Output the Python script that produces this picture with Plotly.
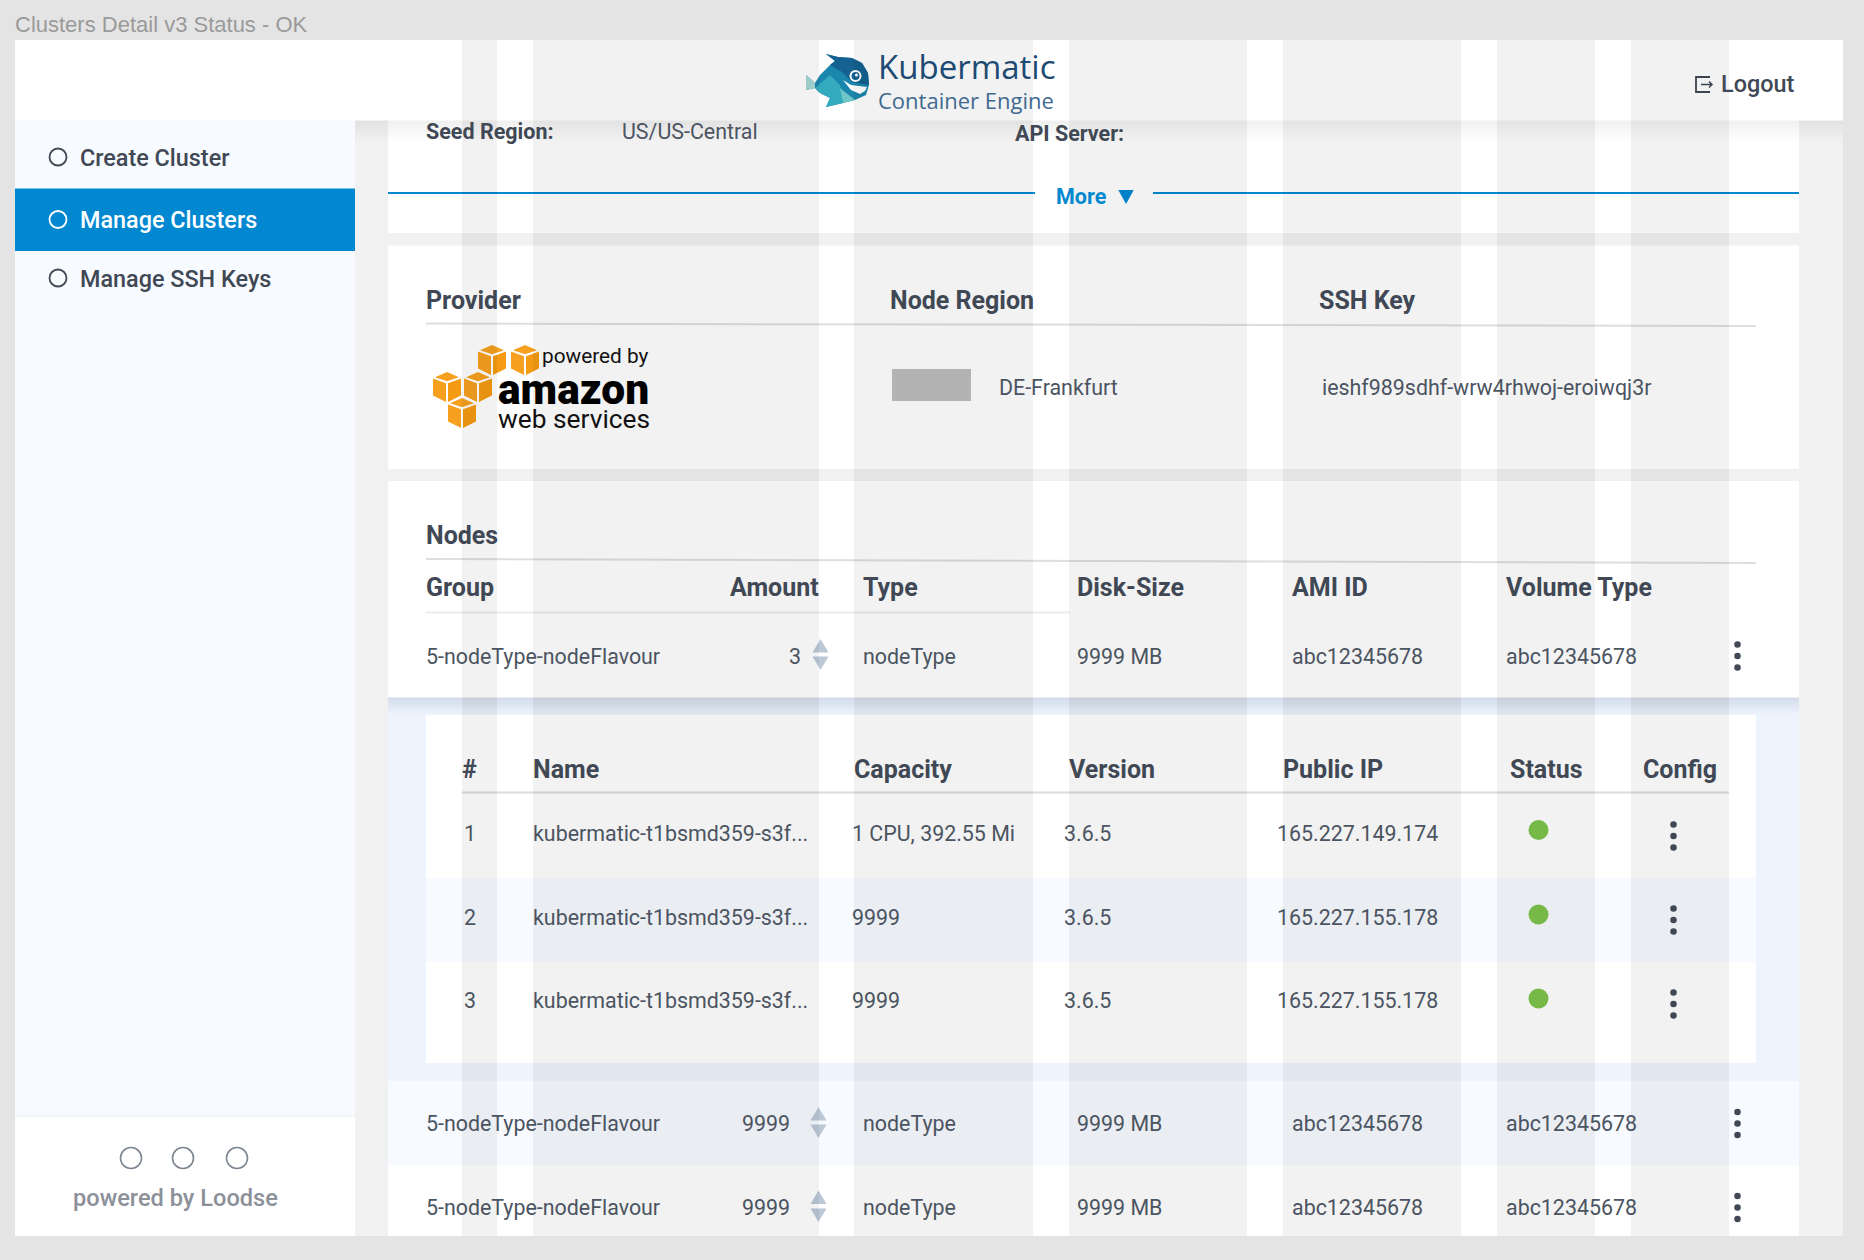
import plotly.graph_objects as go

page_title = 'Clusters Detail v3 Status - OK'
menu_items = ['Create Cluster', 'Manage Clusters', 'Manage SSH Keys']
provider_heads = ['Provider', 'Node Region', 'SSH Key']
node_region = 'DE-Frankfurt'
ssh_key = 'ieshf989sdhf-wrw4rhwoj-eroiwqj3r'

node_heads = ['Group', 'Amount', 'Type', 'Disk-Size', 'AMI ID', 'Volume Type']
group_names = ['5-nodeType-nodeFlavour', '5-nodeType-nodeFlavour', '5-nodeType-nodeFlavour']
group_amounts = ['3', '9999', '9999']
group_types = ['nodeType', 'nodeType', 'nodeType']
group_disks = ['9999 MB', '9999 MB', '9999 MB']
group_amis = ['abc12345678', 'abc12345678', 'abc12345678']
group_volumes = ['abc12345678', 'abc12345678', 'abc12345678']

detail_heads = ['#', 'Name', 'Capacity', 'Version', 'Public IP', 'Status', 'Config']
detail_ids = ['1', '2', '3']
detail_names = ['kubermatic-t1bsmd359-s3f...', 'kubermatic-t1bsmd359-s3f...', 'kubermatic-t1bsmd359-s3f...']
detail_capacity = ['1 CPU, 392.55 Mi', '9999', '9999']
detail_versions = ['3.6.5', '3.6.5', '3.6.5']
detail_ips = ['165.227.149.174', '165.227.155.178', '165.227.155.178']

# Column and row positions in screen pixels
group_row_y = [656, 1123.5, 1207.5]
detail_row_y = [833, 917, 1000.5]
node_head_x = [425.5, 729.5, 863, 1077, 1291.5, 1505.5]
detail_head_x = [462, 532.5, 853.5, 1068.5, 1282.5, 1510, 1643]
stripes = [(462, 497), (533, 819), (854, 1033), (1069, 1247), (1283, 1461), (1497, 1595), (1631, 1729)]

BLUE = '#0288d1'
DARK = '#3f4854'
TEXT = '#4b5461'

fig = go.Figure()
shapes = []
notes = []


def rect(x0, y0, x1, y1, color):
    shapes.append(dict(type='rect', x0=x0, y0=y0, x1=x1, y1=y1, fillcolor=color,
                       line_width=0, layer='below'))


def line(x0, y0, x1, y1, color, width=2):
    shapes.append(dict(type='line', x0=x0, y0=y0, x1=x1, y1=y1,
                       line=dict(color=color, width=width), layer='below'))


def poly(points, color):
    path = 'M' + ' L'.join(f'{x},{y}' for x, y in points) + ' Z'
    shapes.append(dict(type='path', path=path, fillcolor=color, line_width=0, layer='below'))


def disc(cx, cy, r, color):
    shapes.append(dict(type='circle', x0=cx - r, y0=cy - r, x1=cx + r, y1=cy + r,
                       fillcolor=color, line_width=0, layer='below'))


def label(x, y, text, size=21.4, color=TEXT, weight=400, family='Roboto', anchor='left'):
    notes.append(dict(x=x, y=y, text=text, showarrow=False, xanchor=anchor, yanchor='middle',
                      xref='x', yref='y', borderpad=0, borderwidth=0,
                      font=dict(size=size, color=color, weight=weight, family=family)))


def cube(cx, cy, w=28, h=30):
    # one orange box of the AWS mark
    t = h * 0.22
    poly([(cx - w/2, cy - h/2 + t), (cx - 1, cy - h/2 + t*1.7), (cx - 1, cy + h/2), (cx - w/2, cy + h/2 - t)], '#f7a01f')
    poly([(cx + w/2, cy - h/2 + t), (cx + 1, cy - h/2 + t*1.7), (cx + 1, cy + h/2), (cx + w/2, cy + h/2 - t)], '#f59a13')
    poly([(cx - w/2 + 2, cy - h/2 + t*0.8), (cx, cy - h/2), (cx + w/2 - 2, cy - h/2 + t*0.8), (cx, cy - h/2 + t*1.4)], '#f7a01f')


def arrow(cx, y0, y1, w, color):
    # small triangle, tip at y1
    poly([(cx - w/2, y0), (cx + w/2, y0), (cx, y1)], color)


# Page frame
rect(15, 40, 1843, 1236, '#f1f1f1')
rect(15, 120, 355, 1116, '#f7faff')
rect(15, 188.5, 355, 251, BLUE)
rect(15, 1116, 355, 1236, '#ffffff')
line(15, 1116, 355, 1116, '#f2f4f6', 2)

# Cards
rect(388, 120, 1799, 233, '#ffffff')
rect(388, 245.5, 1799, 469, '#ffffff')
rect(388, 481, 1799, 1236, '#ffffff')

# Expanded node panel
rect(388, 697.5, 1799, 1081, '#eef4fd')
rect(426, 715, 1756, 1063, '#ffffff')
rect(426, 878, 1756, 962, '#f7faff')
rect(388, 1081, 1799, 1165, '#f7faff')
for i in range(8):
    rect(388, 697.5 + i * 2, 1799, 699.5 + i * 2, f'rgba(60,90,130,{0.15 * (1 - i / 8):.3f})')

# Rules and separators
line(388, 193, 1035, 193, BLUE)
line(1153, 193, 1799, 193, BLUE)
line(426, 323.5, 1756, 326, '#dedede')
line(426, 559, 1756, 563, '#dedede')
line(426, 612.5, 1070, 612.5, '#ececec')
line(462, 792.5, 1729, 792.5, '#dcdcdc')

# Region flag placeholder
rect(892, 369, 971, 401, '#bdbdbd')

# AWS mark
cube(492, 360)
cube(525, 360)
cube(447, 387)
cube(478, 387)
cube(462, 413)

# Amount spinners and the More arrow
spinner_x = [820.5, 818.5, 818.5]
spinner_top = [639, 1107, 1190.5]
spinner_bottom = [670, 1138, 1222]
for sx, top, bottom in zip(spinner_x, spinner_top, spinner_bottom):
    arrow(sx, top + 13.5, top, 16, '#bcc8d6')
    arrow(sx, bottom - 13.5, bottom, 16, '#bcc8d6')
arrow(1126, 190, 204, 15.5, BLUE)

# Header bar
rect(15, 40, 1843, 120.5, '#ffffff')
for i in range(10):
    rect(355, 120.5 + i * 2, 1843, 122.5 + i * 2, f'rgba(0,0,0,{0.06 * (1 - i / 10):.3f})')

# Shark logo
poly([(826, 54), (838, 57), (852, 58), (862, 63), (868, 73), (869, 85), (866, 95), (855, 100),
      (843, 103), (826, 107), (830, 98), (820, 93), (815, 88), (806, 90), (806, 75), (815, 83),
      (820, 75), (830, 65), (835, 61)], '#1b86ad')
poly([(826, 54), (838, 57), (852, 58), (862, 63), (868, 73), (869, 85), (852, 82), (842, 72), (830, 65), (835, 61)], '#15618f')
poly([(815, 88), (830, 75), (840, 85), (843, 103), (826, 107), (830, 98), (820, 93)], '#34aabf')
poly([(843, 103), (855, 100), (840, 88)], '#6cc6c6')
poly([(806, 90), (806, 75), (815, 83), (815, 88)], '#a5d8d6')
poly([(843, 80), (851, 85), (867, 87), (865, 91), (860, 94), (851, 90)], '#ffffff')
disc(855.5, 76, 6, '#ffffff')
disc(855.5, 76, 4, '#15618f')
disc(856.5, 75, 1.6, '#ffffff')

# Logout icon
shapes.append(dict(type='path', path='M1710,77 L1696,77 L1696,92 L1710,92', line=dict(color=DARK, width=1.8), layer='below'))
shapes.append(dict(type='path', path='M1701,84.5 L1712,84.5 M1709,81.5 L1712,84.5 L1709,87.5', line=dict(color=DARK, width=1.5), layer='below'))

# Grid overlay over everything from the header down
for x0, x1 in stripes:
    rect(x0, 40, x1, 1236, 'rgba(0,0,0,0.05)')

# Markers
menu_y = [157, 219.5, 278]
fig.add_trace(go.Scatter(x=[58] * 3, y=menu_y, mode='markers', hoverinfo='skip',
                         marker=dict(symbol='circle-open', size=17, line=dict(width=1.8),
                                     color=[DARK, '#ffffff', DARK])))
fig.add_trace(go.Scatter(x=[131, 183, 237], y=[1158] * 3, mode='markers', hoverinfo='skip',
                         marker=dict(symbol='circle-open', size=21, line=dict(width=1.6), color='#7d8691')))
fig.add_trace(go.Scatter(x=[1538.5] * 3, y=[830, 914.5, 998.5], mode='markers', hoverinfo='skip',
                         marker=dict(size=20, color='#76b947')))

kebab_x = [1737.5] * 3 + [1673.5] * 3
kebab_y = [656, 1123.5, 1207.5, 836, 920, 1004]
dot_x, dot_y = [], []
for kx, ky in zip(kebab_x, kebab_y):
    for off in (-11.5, 0, 11.5):
        dot_x.append(kx)
        dot_y.append(ky + off)
fig.add_trace(go.Scatter(x=dot_x, y=dot_y, mode='markers', hoverinfo='skip',
                         marker=dict(size=6.5, color=DARK)))

# Texts
label(15, 24, page_title, 22, '#9a9a9a', family='Liberation Sans')
label(877.5, 66, 'Kubermatic', 33, '#1c4a73', family='Open Sans')
label(877.5, 100, 'Container Engine', 22, '#3f6a91', family='Open Sans')
label(1720.5, 84, 'Logout', 23.4, DARK, 500)

for y, item, col in zip([157.5, 219.5, 278.5], menu_items, [DARK, '#ffffff', DARK]):
    label(79.5, y, item, 23.4, col, 500)
label(72.5, 1198, 'powered by Loodse', 23.6, '#8b9099', 500)

label(426, 131, 'Seed Region:', 21.5, DARK, 700)
label(622, 131, 'US/US-Central', 21.4)
label(1015, 133, 'API Server:', 21.5, DARK, 700)
label(1056, 196, 'More', 21.5, BLUE, 700)

for x, head in zip([425.5, 890, 1318.5], provider_heads):
    label(x, 300, head, 25, DARK, 700)
label(999, 387, node_region)
label(1322, 387, ssh_key)

label(542, 356, 'powered by', 20.8, '#111111')
label(498, 389, 'amazon', 42.5, '#000000', 900)
label(498, 419, 'web services', 26.3, '#111111')

label(425.5, 535, 'Nodes', 25, DARK, 700)
for x, head in zip(node_head_x, node_heads):
    label(x, 587, head, 25, DARK, 700)

amount_x = [789, 742, 742]
for i, y in enumerate(group_row_y):
    label(425.5, y, group_names[i])
    label(amount_x[i], y, group_amounts[i])
    label(863, y, group_types[i])
    label(1077, y, group_disks[i])
    label(1291.5, y, group_amis[i])
    label(1505.5, y, group_volumes[i])

for x, head in zip(detail_head_x, detail_heads):
    label(x, 769, head, 25, DARK, 700)
for i, y in enumerate(detail_row_y):
    label(463.5, y, detail_ids[i])
    label(532.5, y, detail_names[i])
    label(851.5, y, detail_capacity[i])
    label(1064, y, detail_versions[i])
    label(1277, y, detail_ips[i])

fig.update_layout(
    width=1864,
    height=1260,
    margin=dict(l=0, r=0, t=0, b=0),
    paper_bgcolor='#e4e4e4',
    plot_bgcolor='rgba(0,0,0,0)',
    showlegend=False,
    xaxis=dict(range=[0, 1864], visible=False, fixedrange=True),
    yaxis=dict(range=[1260, 0], visible=False, fixedrange=True),
    shapes=shapes,
    annotations=notes,
)

fig.write_html('out.html', config=dict(displayModeBar=False),
               post_script="document.body.style.margin='0';document.body.style.overflow='hidden';")
